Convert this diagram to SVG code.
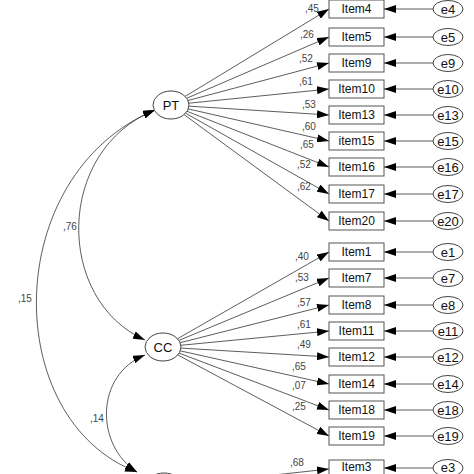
<svg xmlns="http://www.w3.org/2000/svg" width="474" height="474" viewBox="0 0 474 474">
<defs>
<marker id="ah" markerUnits="userSpaceOnUse" markerWidth="12" markerHeight="8" refX="12" refY="4" orient="auto-start-reverse"><path d="M0,0 L12,4 L0,8 z" fill="#000"/></marker>
<style>
.ln{stroke:#333;stroke-width:0.8;fill:none}
.box{fill:#fff;stroke:#555;stroke-width:1}
.lat{fill:#fff;stroke:#444;stroke-width:1}
.err{fill:#fff;stroke:#444;stroke-width:1}
.t{font-family:"Liberation Sans",Arial,sans-serif;font-size:12px;fill:#111;text-anchor:middle}
.tl{font-family:"Liberation Sans",Arial,sans-serif;font-size:13px;fill:#111;text-anchor:middle}
.w{font-family:"Liberation Sans",Arial,sans-serif;font-size:10px;fill:#444}
</style>
</defs>
<rect width="474" height="474" fill="#fff"/>
<g id="connectors">
<path class="ln" marker-start="url(#ah)" marker-end="url(#ah)" d="M155,110 C55,150 55,300 145,340"/>
<path class="ln" marker-start="url(#ah)" marker-end="url(#ah)" d="M155,110 C0,175 0,420 137,472"/>
<path class="ln" marker-start="url(#ah)" marker-end="url(#ah)" d="M145,355 C95,375 95,445 137,472"/>
<g marker-end="url(#ah)">
<line class="ln" x1="171" y1="105" x2="329" y2="9"/>
<line class="ln" x1="171" y1="105" x2="329" y2="37"/>
<line class="ln" x1="171" y1="105" x2="329" y2="63"/>
<line class="ln" x1="171" y1="105" x2="329" y2="89"/>
<line class="ln" x1="171" y1="105" x2="329" y2="115"/>
<line class="ln" x1="171" y1="105" x2="329" y2="141"/>
<line class="ln" x1="171" y1="105" x2="329" y2="167"/>
<line class="ln" x1="171" y1="105" x2="329" y2="194"/>
<line class="ln" x1="171" y1="105" x2="329" y2="221"/>
<line class="ln" x1="163" y1="347" x2="329" y2="252"/>
<line class="ln" x1="163" y1="347" x2="329" y2="278"/>
<line class="ln" x1="163" y1="347" x2="329" y2="305"/>
<line class="ln" x1="163" y1="347" x2="329" y2="331"/>
<line class="ln" x1="163" y1="347" x2="329" y2="357"/>
<line class="ln" x1="163" y1="347" x2="329" y2="384"/>
<line class="ln" x1="163" y1="347" x2="329" y2="410"/>
<line class="ln" x1="163" y1="347" x2="329" y2="436"/>
<line class="ln" x1="164" y1="487" x2="329" y2="469"/>
<line class="ln" x1="433" y1="9" x2="384" y2="9"/>
<line class="ln" x1="433" y1="37" x2="384" y2="37"/>
<line class="ln" x1="433" y1="63" x2="384" y2="63"/>
<line class="ln" x1="433" y1="89" x2="384" y2="89"/>
<line class="ln" x1="433" y1="115" x2="384" y2="115"/>
<line class="ln" x1="433" y1="141" x2="384" y2="141"/>
<line class="ln" x1="433" y1="167" x2="384" y2="167"/>
<line class="ln" x1="433" y1="194" x2="384" y2="194"/>
<line class="ln" x1="433" y1="221" x2="384" y2="221"/>
<line class="ln" x1="433" y1="252" x2="384" y2="252"/>
<line class="ln" x1="433" y1="278" x2="384" y2="278"/>
<line class="ln" x1="433" y1="305" x2="384" y2="305"/>
<line class="ln" x1="433" y1="331" x2="384" y2="331"/>
<line class="ln" x1="433" y1="357" x2="384" y2="357"/>
<line class="ln" x1="433" y1="384" x2="384" y2="384"/>
<line class="ln" x1="433" y1="410" x2="384" y2="410"/>
<line class="ln" x1="433" y1="436" x2="384" y2="436"/>
<line class="ln" x1="433" y1="468" x2="384" y2="468"/>
</g>
<text class="w" x="63" y="230">,76</text>
<text class="w" x="18" y="302">,15</text>
<text class="w" x="90" y="422">,14</text>
<text class="w" x="305" y="12">,45</text>
<text class="w" x="300" y="38">,26</text>
<text class="w" x="299" y="62">,52</text>
<text class="w" x="299" y="85">,61</text>
<text class="w" x="302" y="108">,53</text>
<text class="w" x="302" y="130">,60</text>
<text class="w" x="300" y="148">,65</text>
<text class="w" x="297" y="168">,52</text>
<text class="w" x="297" y="190">,62</text>
<text class="w" x="295" y="260">,40</text>
<text class="w" x="295" y="281">,53</text>
<text class="w" x="297" y="306">,57</text>
<text class="w" x="297" y="328">,61</text>
<text class="w" x="297" y="348">,49</text>
<text class="w" x="292" y="370">,65</text>
<text class="w" x="292" y="389">,07</text>
<text class="w" x="292" y="410">,25</text>
<text class="w" x="290" y="466">,68</text>
</g>
<g id="PT"><ellipse class="lat" cx="171" cy="105" rx="18" ry="14"/><text class="tl" x="171" y="110">PT</text></g>
<g id="CC"><ellipse class="lat" cx="163" cy="347" rx="18" ry="14"/><text class="tl" x="163" y="352">CC</text></g>
<g id="F3"><ellipse class="lat" cx="164" cy="487" rx="18" ry="14"/></g>
<g id="Item4"><rect class="box" x="329" y="0" width="55" height="18"/><text class="t" x="356.5" y="13">Item4</text></g>
<g id="Item5"><rect class="box" x="329" y="28" width="55" height="18"/><text class="t" x="356.5" y="41">Item5</text></g>
<g id="Item9"><rect class="box" x="329" y="54" width="55" height="18"/><text class="t" x="356.5" y="67">Item9</text></g>
<g id="Item10"><rect class="box" x="329" y="80" width="55" height="18"/><text class="t" x="356.5" y="93">Item10</text></g>
<g id="Item13"><rect class="box" x="329" y="106" width="55" height="18"/><text class="t" x="356.5" y="119">Item13</text></g>
<g id="Item15"><rect class="box" x="329" y="132" width="55" height="18"/><text class="t" x="356.5" y="145">item15</text></g>
<g id="Item16"><rect class="box" x="329" y="158" width="55" height="18"/><text class="t" x="356.5" y="171">Item16</text></g>
<g id="Item17"><rect class="box" x="329" y="185" width="55" height="18"/><text class="t" x="356.5" y="198">Item17</text></g>
<g id="Item20"><rect class="box" x="329" y="212" width="55" height="18"/><text class="t" x="356.5" y="225">Item20</text></g>
<g id="Item1"><rect class="box" x="329" y="243" width="55" height="18"/><text class="t" x="356.5" y="256">Item1</text></g>
<g id="Item7"><rect class="box" x="329" y="269" width="55" height="18"/><text class="t" x="356.5" y="282">Item7</text></g>
<g id="Item8"><rect class="box" x="329" y="296" width="55" height="18"/><text class="t" x="356.5" y="309">Item8</text></g>
<g id="Item11"><rect class="box" x="329" y="322" width="55" height="18"/><text class="t" x="356.5" y="335">Item11</text></g>
<g id="Item12"><rect class="box" x="329" y="348" width="55" height="18"/><text class="t" x="356.5" y="361">Item12</text></g>
<g id="Item14"><rect class="box" x="329" y="375" width="55" height="18"/><text class="t" x="356.5" y="388">Item14</text></g>
<g id="Item18"><rect class="box" x="329" y="401" width="55" height="18"/><text class="t" x="356.5" y="414">Item18</text></g>
<g id="Item19"><rect class="box" x="329" y="427" width="55" height="18"/><text class="t" x="356.5" y="440">Item19</text></g>
<g id="Item3"><rect class="box" x="329" y="460" width="55" height="18"/><text class="t" x="356.5" y="471">Item3</text></g>
<g id="e4"><ellipse class="err" cx="448" cy="9" rx="15" ry="8.5"/><text class="tl" x="448" y="14">e4</text></g>
<g id="e5"><ellipse class="err" cx="448" cy="37" rx="15" ry="8.5"/><text class="tl" x="448" y="42">e5</text></g>
<g id="e9"><ellipse class="err" cx="448" cy="63" rx="15" ry="8.5"/><text class="tl" x="448" y="68">e9</text></g>
<g id="e10"><ellipse class="err" cx="448" cy="89" rx="15" ry="8.5"/><text class="tl" x="448" y="94">e10</text></g>
<g id="e13"><ellipse class="err" cx="448" cy="115" rx="15" ry="8.5"/><text class="tl" x="448" y="120">e13</text></g>
<g id="e15"><ellipse class="err" cx="448" cy="141" rx="15" ry="8.5"/><text class="tl" x="448" y="146">e15</text></g>
<g id="e16"><ellipse class="err" cx="448" cy="167" rx="15" ry="8.5"/><text class="tl" x="448" y="172">e16</text></g>
<g id="e17"><ellipse class="err" cx="448" cy="194" rx="15" ry="8.5"/><text class="tl" x="448" y="199">e17</text></g>
<g id="e20"><ellipse class="err" cx="448" cy="221" rx="15" ry="8.5"/><text class="tl" x="448" y="226">e20</text></g>
<g id="e1"><ellipse class="err" cx="448" cy="252" rx="15" ry="8.5"/><text class="tl" x="448" y="257">e1</text></g>
<g id="e7"><ellipse class="err" cx="448" cy="278" rx="15" ry="8.5"/><text class="tl" x="448" y="283">e7</text></g>
<g id="e8"><ellipse class="err" cx="448" cy="305" rx="15" ry="8.5"/><text class="tl" x="448" y="310">e8</text></g>
<g id="e11"><ellipse class="err" cx="448" cy="331" rx="15" ry="8.5"/><text class="tl" x="448" y="336">e11</text></g>
<g id="e12"><ellipse class="err" cx="448" cy="357" rx="15" ry="8.5"/><text class="tl" x="448" y="362">e12</text></g>
<g id="e14"><ellipse class="err" cx="448" cy="384" rx="15" ry="8.5"/><text class="tl" x="448" y="389">e14</text></g>
<g id="e18"><ellipse class="err" cx="448" cy="410" rx="15" ry="8.5"/><text class="tl" x="448" y="415">e18</text></g>
<g id="e19"><ellipse class="err" cx="448" cy="436" rx="15" ry="8.5"/><text class="tl" x="448" y="441">e19</text></g>
<g id="e3"><ellipse class="err" cx="448" cy="468" rx="15" ry="8.5"/><text class="tl" x="448" y="472">e3</text></g>
</svg>
